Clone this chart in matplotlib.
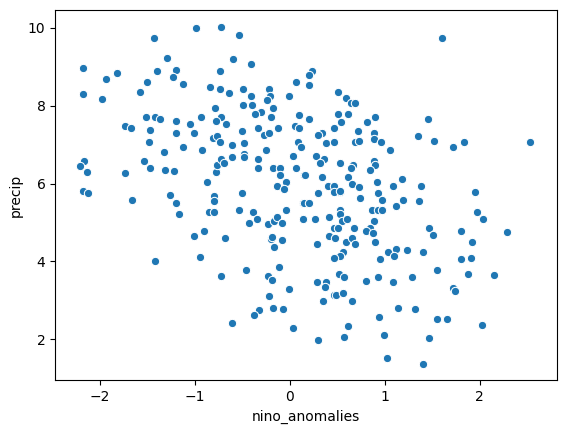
import matplotlib
matplotlib.use("Agg")
import matplotlib.pyplot as plt

nino_anomalies = [
    -2.18, -2.18, -1.94, -1.82, -1.98, -1.43, -0.99, -0.72, -0.54, -1.29, -1.20, -1.40, -1.23, -1.50, -1.12, -1.58,
    -0.60, -0.41, -0.73, -0.84, -0.74, -0.64, -0.49, -0.41, -0.22, -0.21, -0.24, 0.06, -0.01, -0.49, -0.40, -0.18,
    -0.30, -0.37, -0.79, 0.10, -0.20, -1.51, -1.42, -1.37, -1.73, -1.67, -1.47, -1.20, -1.05, -0.94, -0.72, -0.78,
    -0.67, -0.34, -0.12, 0.05, 0.10, -1.20, -1.01, -0.50, -0.27, -0.22, -1.48, -1.12, -0.81, -0.77, -0.74, -0.61,
    -0.48, -0.48, -0.25, 0.09, 0.12, -1.32, -0.92, -2.17, -2.21, -2.14, -1.74, -1.53, -1.47, -1.31, -1.22, -0.87,
    -0.78, -0.77, -0.72, -0.69, -0.61, -0.48, -0.34, -0.33, -0.18, -0.10, -0.10, -0.04, -0.13, -0.06, 0.03, 0.06,
    0.15, -2.18, -2.12, -1.26, -0.50, -0.80,
    1.60, 0.23, 0.20, 0.20, 0.51, 0.59, 0.64, 0.69, 0.51, 0.61, 0.90, 0.20, 0.54, 0.81, 1.45, 0.46,
    0.72, 0.89, 1.35, 0.34, 0.30, 0.38, 0.46, 0.69, 0.73, 0.89, 0.96, 1.05, 1.52, 1.72, 1.83, 2.53,
    0.28, 0.36, 0.32, 0.53, 0.67, 0.64, 0.89, 0.90, 0.84, 0.16, 0.34, 0.61, 1.18, 0.40, 0.47, 0.65,
    0.73, 0.92, 1.09, 1.38, 0.30, 0.53, 0.93, 1.95,
    -1.66, -1.20, -1.17, -0.80, -0.85, -0.80, -0.53, -0.39, -0.43, -0.35, -0.23, -0.17, -0.14, -0.08, -0.04, 0.14,
    0.14, -1.01, -0.90, -0.68, -0.20, -0.19, -0.17, -0.08, -1.42, -0.95, -0.72, -0.46, -0.23, -0.19, -0.11, -0.01,
    -0.22, -0.18, -0.07, -0.32, -0.38, -0.61, 0.03,
    0.30, 0.47, 0.53, 0.74, 0.93, 0.97, 1.12, 1.19, 1.36, 1.97, 0.15, 0.20, 0.14, 0.27, 0.41, 0.53,
    0.53, 0.55, 0.60, 0.87, 0.93, 0.97, 0.89, 0.46, 0.51, 0.68, 0.84, 0.80, 0.88, 0.41, 0.48, 0.59,
    0.65, 0.69, 0.90, 0.29, 1.47, 1.51, 1.80, 1.92, 2.29, 0.56, 0.53, 0.47, 1.03, 1.12, 1.10, 1.23,
    1.40, 0.95, 1.80, 1.91, 1.55, 1.88, 2.15, 0.52, 0.57, 0.80, 0.93, 1.09, 1.29, 0.29, 0.38, 0.37,
    1.72, 1.74, 0.46, 0.49, 0.56, 0.35, 0.65, 1.14, 1.32, 0.94, 1.55, 1.65, 2.02, 0.61, 0.57, 0.99,
    1.47, 0.30, 1.02, 1.40, 2.03,
]
precip = [
    8.96, 8.29, 8.68, 8.83, 8.16, 9.73, 9.99, 10.01, 9.81, 9.22, 8.93, 8.88, 8.75, 8.60, 8.57, 8.34,
    9.19, 9.06, 8.88, 8.49, 8.42, 8.32, 8.42, 8.24, 8.44, 8.24, 8.14, 8.60, 8.26, 8.03, 8.03, 7.93,
    7.85, 7.80, 7.93, 7.77, 7.70, 7.72, 7.70, 7.65, 7.47, 7.42, 7.37, 7.62, 7.54, 7.70, 7.70, 7.62,
    7.52, 7.44, 7.44, 7.49, 7.42, 7.29, 7.29, 7.34, 7.26, 7.29, 7.06, 6.95, 7.18, 7.23, 7.08, 6.98,
    7.03, 6.77, 6.85, 7.08, 6.95, 6.80, 6.85, 6.59, 6.44, 6.31, 6.26, 6.57, 6.39, 6.36, 6.33, 6.03,
    6.31, 6.49, 6.64, 6.52, 6.67, 6.69, 6.62, 6.41, 6.41, 6.39, 6.21, 6.05, 5.95, 5.87, 6.72, 6.39,
    6.21, 5.82, 5.77, 5.71, 5.77, 5.68,
    9.73, 8.88, 8.80, 8.54, 8.34, 8.19, 8.06, 8.06, 7.78, 7.80, 7.70, 7.65, 7.57, 7.57, 7.65, 7.44,
    7.36, 7.31, 7.21, 7.29, 7.26, 7.05, 7.08, 7.06, 7.10, 7.15, 7.08, 6.87, 7.10, 6.95, 7.08, 7.08,
    6.72, 6.62, 6.54, 6.52, 6.49, 6.39, 6.57, 6.47, 6.34, 6.21, 6.18, 6.16, 6.11, 5.95, 5.95, 5.98,
    5.90, 6.03, 5.95, 5.95, 5.77, 5.79, 5.77, 5.79,
    5.57, 5.49, 5.23, 5.54, 5.26, 5.26, 5.33, 5.26, 5.00, 5.08, 4.97, 5.03, 5.15, 5.00, 5.33, 5.51,
    5.10, 4.66, 4.77, 4.59, 4.57, 4.64, 4.38, 4.54, 4.02, 4.12, 3.63, 3.79, 3.63, 3.53, 3.87, 3.28,
    3.10, 2.81, 2.79, 2.74, 2.63, 2.43, 2.28,
    5.75, 5.78, 5.80, 5.64, 5.77, 5.57, 5.43, 5.57, 5.54, 5.28, 5.51, 5.49, 5.10, 5.08, 5.13, 5.33,
    5.23, 5.05, 5.08, 5.31, 5.33, 5.31, 5.05, 4.87, 4.85, 4.85, 4.87, 4.77, 4.74, 4.66, 4.61, 4.49,
    4.59, 4.46, 4.49, 4.46, 4.85, 4.69, 4.79, 4.49, 4.75, 4.25, 4.15, 4.10, 4.23, 4.33, 4.15, 4.30,
    4.25, 4.05, 4.05, 4.10, 3.77, 3.69, 3.66, 3.69, 3.59, 3.51, 3.61, 3.48, 3.61, 3.48, 3.48, 3.35,
    3.33, 3.23, 3.15, 3.15, 3.20, 2.99, 2.99, 2.81, 2.79, 2.56, 2.53, 2.53, 2.37, 2.33, 2.07, 2.12,
    2.04, 1.97, 1.53, 1.37, 5.08,
]

fig, ax = plt.subplots(figsize=(5.63, 4.33), dpi=100)
fig.subplots_adjust(left=0.098, right=0.989, top=0.977, bottom=0.122)
ax.scatter(nino_anomalies, precip, s=36, color="#1f77b4", edgecolors="white", linewidths=0.75)
ax.set_xlim(-2.47, 2.81)
ax.set_ylim(0.95, 10.46)
ax.set_yticks([2, 4, 6, 8, 10])
ax.set_xlabel("nino_anomalies")
ax.set_ylabel("precip")
fig.savefig("out.png")
